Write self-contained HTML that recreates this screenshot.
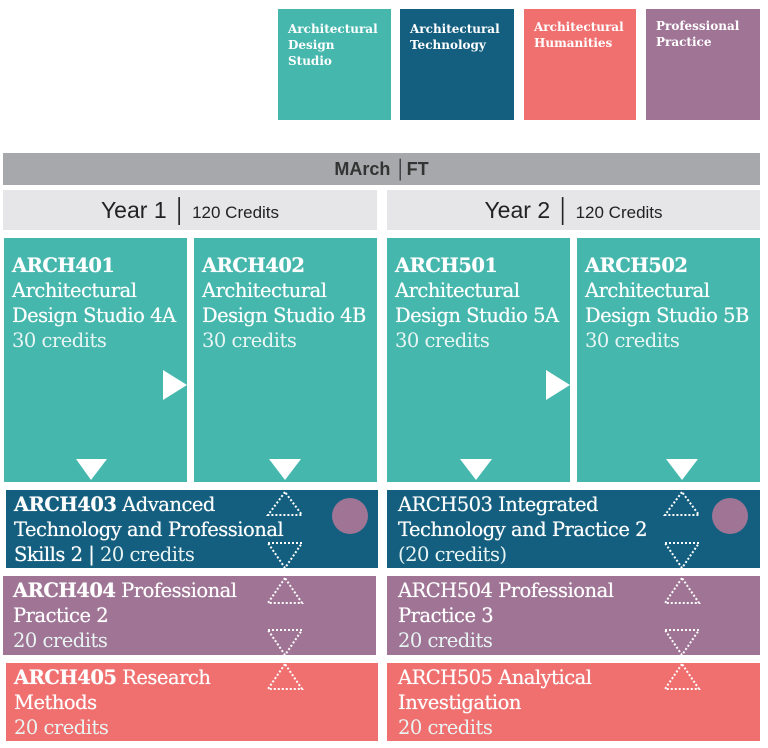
<!DOCTYPE html>
<html><head><meta charset="utf-8"><style>
body{margin:0;width:768px;height:748px;background:#fff;position:relative;overflow:hidden;font-family:"DejaVu Serif","Liberation Serif",serif}
div{position:absolute;box-sizing:border-box}
.lg{top:9px;height:111px;color:#fff;font-size:12px;font-weight:bold;line-height:16px;padding:12px 0 0 10px}
.t{background:#45b7ad}.b{background:#145f7f}.c{background:#f07070}.p{background:#a07495}
.box{color:#fff;font-size:19.5px;line-height:25px;padding:15px 0 0 8px;letter-spacing:-0.5px;white-space:nowrap;text-shadow:0 0 0.6px #fff}
.box b{font-weight:bold}
.cr{font-weight:normal;color:#e8f5f3;text-shadow:none}
.yr{background:#e6e6e8;top:190px;height:40px;font-family:"Liberation Sans",sans-serif;color:#222;text-align:center;font-size:23px;line-height:40px}
.yr span{font-size:17px}
svg{position:absolute;left:0;top:0}
</style></head><body>
<div class="lg t" style="left:278px;width:113px">Architectural<br>Design<br>Studio</div>
<div class="lg b" style="left:400px;width:114px">Architectural<br>Technology</div>
<div class="lg c" style="left:524px;width:112px;padding-top:10px">Architectural<br>Humanities</div>
<div class="lg p" style="left:646px;width:114px;padding-top:9px">Professional<br>Practice</div>
<div style="left:3px;top:153px;width:757px;height:32px;background:#a7a8ab;font-family:'Liberation Sans',sans-serif;font-weight:bold;font-size:18px;line-height:32px;text-align:center;color:#333">MArch │FT</div>
<div class="yr" style="left:3px;width:374px">Year 1 │<span> 120 Credits</span></div>
<div class="yr" style="left:387px;width:373px">Year 2 │<span> 120 Credits</span></div>
<div class="box t" style="left:4px;top:238px;width:183px;height:244px"><b>ARCH401</b><br>Architectural<br>Design Studio 4A<br><span class="cr">30 credits</span></div>
<div class="box t" style="left:194px;top:238px;width:183px;height:244px"><b>ARCH402</b><br>Architectural<br>Design Studio 4B<br><span class="cr">30 credits</span></div>
<div class="box t" style="left:387px;top:238px;width:183px;height:244px"><b>ARCH501</b><br>Architectural<br>Design Studio 5A<br><span class="cr">30 credits</span></div>
<div class="box t" style="left:577px;top:238px;width:183px;height:244px"><b>ARCH502</b><br>Architectural<br>Design Studio 5B<br><span class="cr">30 credits</span></div>
<div class="box b" style="left:6px;top:490px;width:372px;height:78px;padding-top:2px"><b>ARCH403</b> Advanced<br>Technology and Professional<br>Skills 2 | <span class="cr">20 credits</span></div>
<div class="box b" style="left:387px;top:490px;width:373px;height:78px;padding-top:2px;padding-left:11px">ARCH503 Integrated<br>Technology and Practice 2<br><span class="cr">(20 credits)</span></div>
<div class="box p" style="left:3px;top:576px;width:373px;height:79px;padding-top:2px;padding-left:10px"><b>ARCH404</b> Professional<br>Practice 2<br><span class="cr">20 credits</span></div>
<div class="box p" style="left:387px;top:576px;width:373px;height:79px;padding-top:2px;padding-left:11px">ARCH504 Professional<br>Practice 3<br><span class="cr">20 credits</span></div>
<div class="box c" style="left:6px;top:663px;width:372px;height:78px;padding-top:2px"><b>ARCH405</b> Research<br>Methods<br><span class="cr">20 credits</span></div>
<div class="box c" style="left:387px;top:663px;width:373px;height:78px;padding-top:2px;padding-left:11px">ARCH505 Analytical<br>Investigation<br><span class="cr">20 credits</span></div>
<svg width="768" height="748">
<g fill="#fff">
<polygon points="163,370 187,385 163,400"/>
<polygon points="546,370 570,385 546,400"/>
<polygon points="76,459 107,459 91,480"/>
<polygon points="269,459 301,459 285,480"/>
<polygon points="460,459 492,459 476,480"/>
<polygon points="666,459 698,459 682,480"/>
</g>
<circle cx="350" cy="516" r="18" fill="#a07495"/>
<circle cx="730" cy="516" r="18" fill="#a07495"/>
<g fill="none" stroke="#fff" stroke-width="2" stroke-dasharray="2,2">
<path d="M285,492 L268,515 L302,515 Z M268,543 L302,543 L285,568 Z M285,578 L268,603 L302,603 Z M268,630 L302,630 L285,655 Z M285,664 L268,689 L302,689 Z"/>
<path d="M682,492 L665,515 L699,515 Z M665,543 L699,543 L682,568 Z M682,578 L665,603 L699,603 Z M665,630 L699,630 L682,655 Z M682,664 L665,689 L699,689 Z"/>
</g>
</svg>
</body></html>
